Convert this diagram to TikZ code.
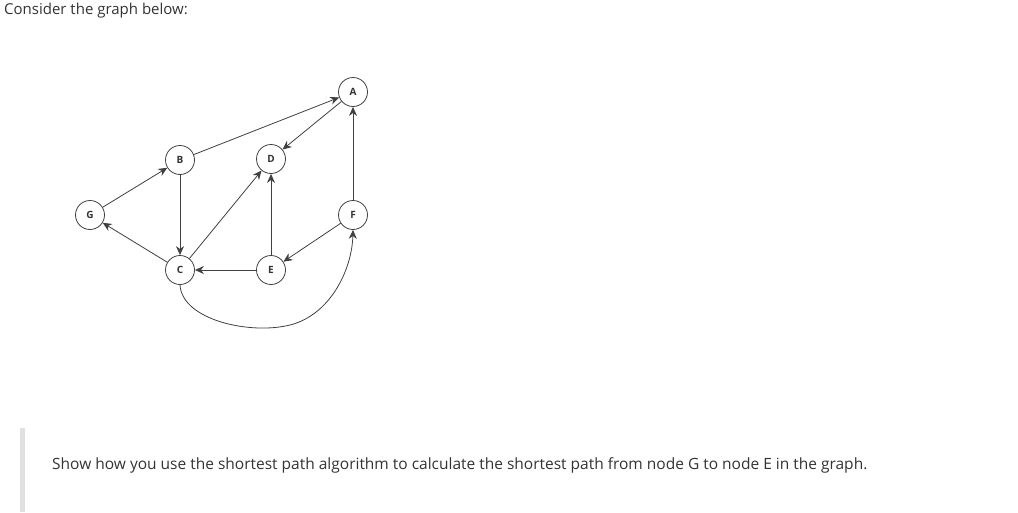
\documentclass[tikz,border=0pt]{standalone}
\usepackage{fontspec}
\setmainfont{Open Sans}
\usetikzlibrary{arrows.meta}
\definecolor{txt}{HTML}{333333}
\begin{document}
\begin{tikzpicture}[x=1pt,y=-1pt,
  vtx/.style={circle,draw=black!75,line width=0.8pt,minimum size=29pt,inner sep=0pt,font=\fontsize{10}{12}\selectfont\bfseries,text=black!80},
  edge/.style={line width=0.8pt,draw=black!75,-{Stealth[length=9pt,width=8pt]}}]
\useasboundingbox (0,0) rectangle (1018,512);
\node[anchor=west,text=txt,font=\fontsize{15}{18}\selectfont,inner sep=0pt] (t1) at (4,11) {Consider the graph below:};
\fill[black!12] (20,428) rectangle (25,512);
\node[anchor=west,text=txt,font=\fontsize{15.5}{18}\selectfont,inner sep=0pt] (t2) at (52,465) {Show how you use the shortest path algorithm to calculate the shortest path from node G to node E in the graph.};
\node[vtx] (A) at (353,92) {A};
\node[vtx] (B) at (180,160) {B};
\node[vtx] (D) at (271,159) {D};
\node[vtx] (G) at (90,215) {G};
\node[vtx] (F) at (353,215) {F};
\node[vtx] (C) at (180,270) {C};
\node[vtx] (E) at (271,270) {E};
\draw[edge] (G) -- (B);
\draw[edge] (B) -- (A);
\draw[edge] (A) -- (D);
\draw[edge] (B) -- (C);
\draw[edge] (C) -- (G);
\draw[edge] (C) -- (D);
\draw[edge] (E) -- (D);
\draw[edge] (E) -- (C);
\draw[edge] (F) -- (E);
\draw[edge] (F) -- (A);
\draw[edge] (C.south) .. controls (182,320) and (250,335) .. (290,325) .. controls (330,315) and (352,270) .. (F.south);
\end{tikzpicture}
\end{document}
